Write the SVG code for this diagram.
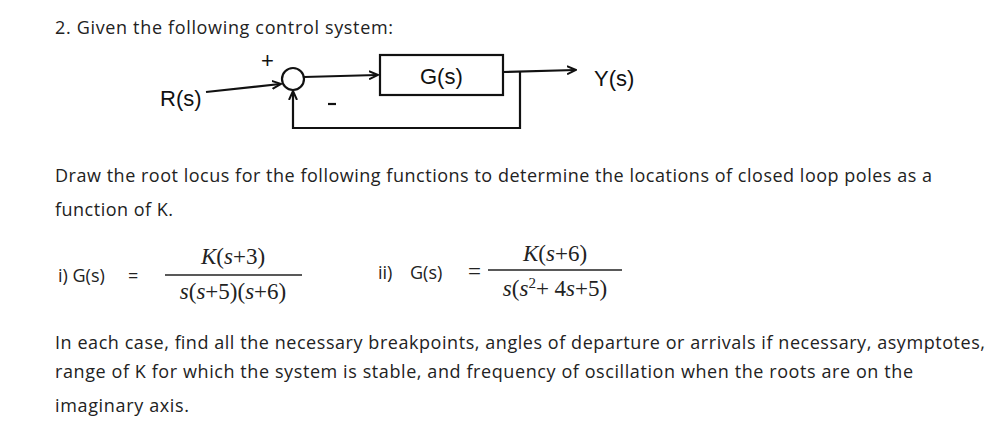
<svg xmlns="http://www.w3.org/2000/svg" width="994" height="444" viewBox="0 0 994 444">
<defs>
<style>
.t{font-family:"Open Sans","Liberation Sans",sans-serif;font-size:18px;fill:#222}
.m{font-family:"Liberation Serif","DejaVu Serif",serif;font-size:23px;fill:#222}
.h{font-family:"Liberation Sans",sans-serif;font-size:22px;fill:#111}
.ln{stroke:#111;stroke-width:2.2;fill:none}
</style>
<marker id="a" markerWidth="10" markerHeight="10" refX="8" refY="5" orient="auto" markerUnits="userSpaceOnUse"><path d="M0,1 L9,5 L0,9" fill="none" stroke="#111" stroke-width="2"/></marker>
</defs>
<rect width="994" height="444" fill="#fff"/>
<text class="t" x="55" y="34" textLength="338">2. Given the following control system:</text>
<g id="input"><text class="h" x="160" y="106">R(s)</text></g>
<g id="sum"><circle class="ln" cx="293" cy="79" r="11"/><text class="h" x="261" y="68">+</text><line class="ln" x1="328" y1="104" x2="336" y2="104"/></g>
<g id="block"><rect class="ln" x="380" y="55" width="123" height="40"/><text class="h" x="420" y="84">G(s)</text></g>
<g id="output"><text class="h" x="594" y="86">Y(s)</text></g>
<g id="connectors">
<path class="ln" d="M206,92 L280,84" marker-end="url(#a)"/>
<path class="ln" d="M304,77 L377,75" marker-end="url(#a)"/>
<path class="ln" d="M503,72 L575,70" marker-end="url(#a)"/>
<path class="ln" d="M520,72 L520,128 L293,128 L293,92" marker-end="url(#a)"/>
</g>
<text class="t" x="55" y="182" textLength="877">Draw the root locus for the following functions to determine the locations of closed loop poles as a</text>
<text class="t" x="55" y="216" textLength="118">function of K.</text>
<text class="t" x="58" y="282">i) G(s)</text><text class="t" x="128" y="282">=</text>
<text class="m" x="233" y="264" text-anchor="middle" font-style="italic">K<tspan font-style="normal">(</tspan>s<tspan font-style="normal">+3)</tspan></text>
<line x1="165" y1="275" x2="302" y2="275" stroke="#222" stroke-width="1.5"/>
<text class="m" x="233" y="299" text-anchor="middle" font-style="italic">s<tspan font-style="normal">(</tspan>s<tspan font-style="normal">+5)(</tspan>s<tspan font-style="normal">+6)</tspan></text>
<text class="t" x="378" y="279">ii)</text><text class="t" x="410" y="279">G(s)</text>
<text class="m" x="468" y="279">=</text>
<text class="m" x="555" y="261" text-anchor="middle" font-style="italic">K<tspan font-style="normal">(</tspan>s<tspan font-style="normal">+6)</tspan></text>
<line x1="488" y1="270" x2="622" y2="270" stroke="#222" stroke-width="1.5"/>
<text class="m" x="555" y="296" text-anchor="middle" font-style="italic">s<tspan font-style="normal">(</tspan>s<tspan font-style="normal"><tspan font-size="15" dy="-8">2</tspan><tspan dy="8">+ 4</tspan></tspan>s<tspan font-style="normal">+5)</tspan></text>
<text class="t" x="55" y="349" textLength="930">In each case, find all the necessary breakpoints, angles of departure  or arrivals if necessary, asymptotes,</text>
<text class="t" x="55" y="378" textLength="858">range of K for which the system is stable, and  frequency of oscillation when the roots are on the</text>
<text class="t" x="55" y="412" textLength="134">imaginary axis.</text>
</svg>
